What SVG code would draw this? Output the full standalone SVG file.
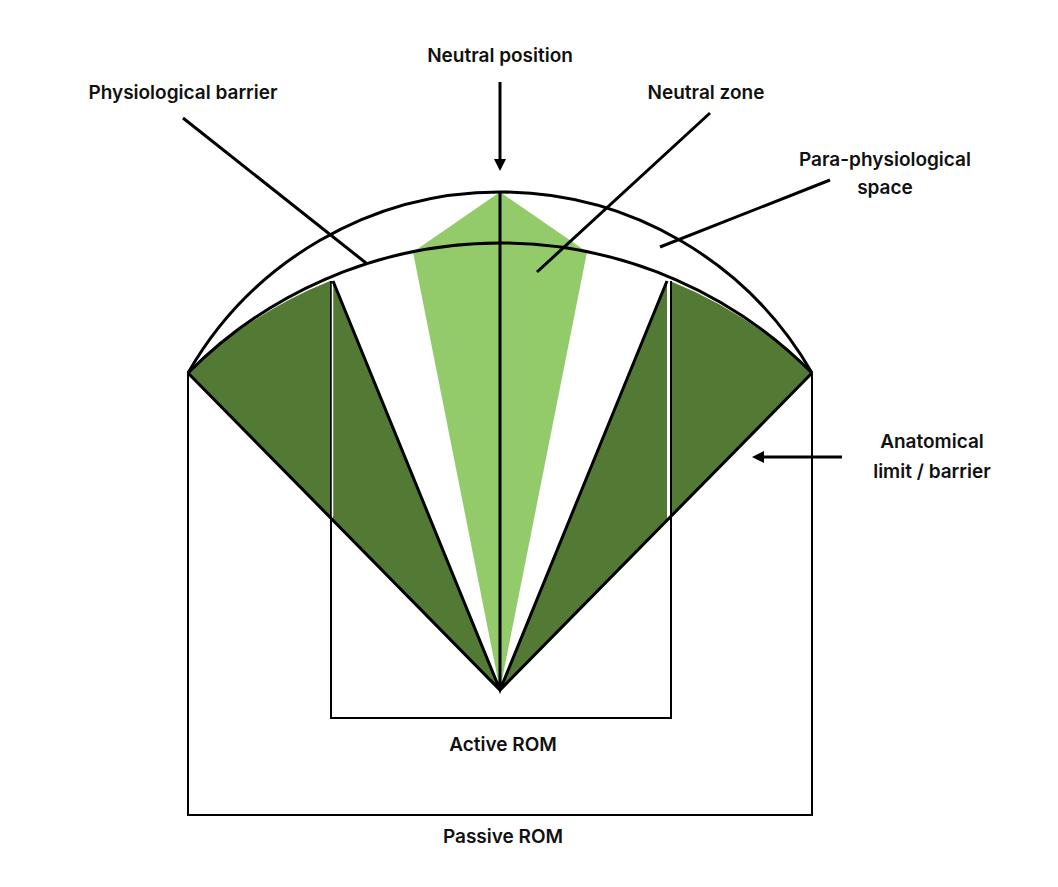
<svg xmlns="http://www.w3.org/2000/svg" width="1058" height="887" viewBox="0 0 1058 887">
<defs>
<style>
.t{font-family:Inter,"Open Sans",sans-serif;font-weight:600;font-size:19px;fill:#111;text-anchor:middle}
.k{stroke:#000;stroke-width:3;fill:none}
.thin{stroke:#000;stroke-width:2;fill:none}
</style>
<marker id="ah" markerWidth="4" markerHeight="4" refX="2" refY="2" orient="auto" markerUnits="strokeWidth"><path d="M0,0L4,2L0,4z" fill="#000"/></marker>
</defs>
<rect width="1058" height="887" fill="#fff"/>
<g id="zones">
<path d="M500,192 L413,252 L500,690 L587,252 Z" fill="#93cb6a"/>
<path d="M188,373 A439.4,439.4 0 0 1 330,281 L330,517 Z" fill="#527a34"/>
<path d="M812,373 A439.4,439.4 0 0 0 670,281 L670,517 Z" fill="#527a34"/>
<path d="M333,281 L500,690 L333,519 Z" fill="#527a34"/>
<path d="M667,281 L500,690 L667,519 Z" fill="#527a34"/>
</g>
<g id="boxes">
<path class="thin" d="M331,281 V718 H671 V281"/>
<path class="thin" d="M188,373 V815 H812 V373"/>
<path d="M332.5,283 V516 M668.5,283 V516" stroke="#fff" stroke-width="1.5"/>
</g>
<g id="arcs">
<path class="k" d="M188,373 A359.4,359.4 0 0 1 812,373"/>
<path class="k" d="M188,373 A439.4,439.4 0 0 1 812,373"/>
<path class="k" d="M188,373 L500,690 L812,373 M333,281 L500,690 L667,281 M500,192 V690"/>
</g>
<g id="connectors">
<line class="k" x1="183" y1="118" x2="366" y2="263"/>
<line class="k" x1="710" y1="113" x2="537" y2="272"/>
<line class="k" x1="830" y1="180" x2="660" y2="247"/>
<line class="k" x1="500" y1="82" x2="500" y2="165" marker-end="url(#ah)"/>
<line class="k" x1="842" y1="457" x2="758" y2="457" marker-end="url(#ah)"/>
</g>
<g id="labels">
<text class="t" x="500" y="62">Neutral position</text>
<text class="t" x="183" y="99">Physiological barrier</text>
<text class="t" x="706" y="99">Neutral zone</text>
<text class="t" x="885" y="166">Para-physiological</text>
<text class="t" x="885" y="194">space</text>
<text class="t" x="932" y="448">Anatomical</text>
<text class="t" x="932" y="478">limit / barrier</text>
<text class="t" x="503" y="751">Active ROM</text>
<text class="t" x="503" y="843">Passive ROM</text>
</g>
</svg>
